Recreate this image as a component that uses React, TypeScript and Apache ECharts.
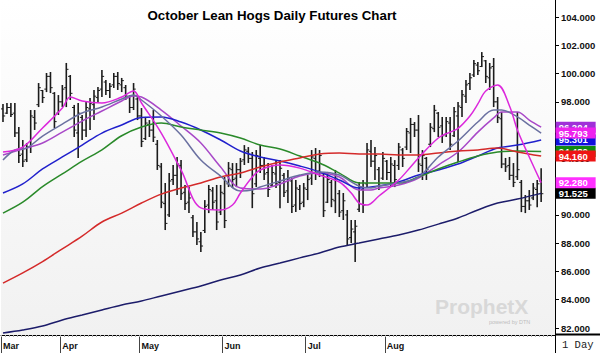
import React, { useEffect, useRef } from 'react';
import * as echarts from 'echarts';

const TITLE = 'October Lean Hogs Daily Futures Chart';
const monthNames = ['Mar', 'Apr', 'May', 'Jun', 'Jul', 'Aug'];
const monthStarts = [0, 15, 35, 56, 77, 97];
const slotCount = 140;

const highs = [97.85,97.92,97.92,97.92,96.22,95.30,95.09,97.42,97.42,99.33,98.84,100.04,100.11,98.69,98.48,99.19,100.75,99.90,97.78,97.92,97.07,97.99,98.27,98.84,99.05,100.25,99.54,99.33,100.04,100.11,99.69,99.19,98.48,99.33,98.34,97.56,96.93,96.71,97.42,95.30,93.67,92.26,92.96,93.53,94.10,93.88,92.12,91.97,89.99,89.50,88.79,91.05,92.12,91.97,92.12,92.12,92.68,93.74,93.67,93.67,94.03,94.94,94.80,94.45,94.59,94.94,94.10,93.67,93.53,93.88,93.88,92.96,93.18,92.61,92.47,92.12,92.26,92.82,94.59,94.73,94.59,92.96,93.04,92.47,93.18,91.76,91.55,90.35,89.64,89.64,92.33,92.47,95.09,95.30,94.80,93.39,94.45,93.88,94.10,93.88,95.09,94.73,96.15,96.86,96.57,97.07,94.59,94.10,96.50,97.78,97.28,96.93,96.93,96.93,97.63,97.99,98.84,99.54,100.04,100.96,100.82,101.52,100.96,100.75,101.10,98.34,97.28,94.03,94.10,93.67,97.28,92.47,91.41,91.76,92.26,92.47,93.31];
const lows = [96.57,97.14,96.93,95.51,93.67,93.39,93.74,94.38,96.01,97.63,97.92,98.69,98.62,96.15,97.07,97.63,97.63,98.13,95.51,94.03,95.30,95.51,96.01,96.71,97.92,98.34,98.48,98.27,98.98,98.84,98.69,98.13,97.21,97.42,96.71,94.80,95.30,95.51,95.16,93.18,90.48,88.93,89.85,92.12,91.41,91.05,90.35,90.13,88.44,87.87,87.38,88.72,90.13,90.35,88.93,89.99,89.07,91.97,91.90,91.97,92.61,93.53,93.67,90.48,91.97,92.96,92.47,91.26,91.97,91.90,90.48,91.26,90.84,90.13,90.20,90.35,90.55,91.05,92.12,92.47,92.68,89.85,90.84,90.55,90.13,89.85,89.64,87.87,88.01,86.67,90.20,90.13,91.97,93.39,92.47,91.76,92.47,92.47,91.97,91.97,93.18,93.39,94.59,94.38,95.51,93.04,92.47,92.47,94.80,95.86,95.51,95.09,95.51,94.59,95.51,93.74,96.93,97.92,98.84,99.76,99.90,100.46,99.33,98.84,97.63,96.50,93.31,93.04,92.47,91.97,92.47,90.20,90.13,90.35,91.05,90.55,90.91];
const opens = [97.5,97.2,97.6,97.2,95.8,94.3,93.9,94.8,96.9,97.8,98.8,98.9,99.8,98.6,97.2,98.0,99.0,99.8,97.6,95.8,96.9,96.0,97.5,97.8,98.3,98.9,99.4,98.8,99.2,99.8,99.2,99.0,98.3,97.6,98.2,97.0,95.4,96.4,96.0,95.0,93.4,90.8,90.0,92.5,92.8,93.5,91.6,90.9,89.8,88.8,88.1,88.9,90.7,91.7,91.0,90.2,91.5,92.2,93.2,92.6,93.2,93.9,94.5,94.0,92.2,94.0,93.5,93.0,92.1,92.9,92.3,92.8,91.7,92.4,90.7,91.8,90.9,91.8,92.6,94.0,93.1,92.8,90.9,92.3,91.0,91.5,90.3,90.0,88.4,88.8,90.4,91.8,92.2,94.5,93.8,93.2,92.6,93.8,93.0,93.5,93.5,94.6,94.8,95.8,96.4,96.0,93.5,94.0,95.0,96.1,97.2,96.3,95.7,96.5,95.6,97.0,97.6,98.4,99.3,99.9,100.6,100.5,100.9,99.7,100.5,98.0,96.8,93.6,93.5,92.8,92.7,92.3,90.6,91.0,91.2,91.8,92.4];
const closes = [97.0,97.6,97.1,95.8,94.2,93.8,94.8,97.0,96.5,99.0,98.3,99.8,99.0,96.6,98.0,98.9,100.3,98.6,96.0,97.2,96.0,97.6,97.9,98.4,98.8,99.8,98.8,99.1,99.8,99.3,99.5,98.4,97.6,98.9,97.0,95.2,96.5,96.0,95.5,93.5,90.9,89.4,92.4,92.8,93.6,91.5,90.8,91.2,88.8,88.3,87.8,90.6,91.8,90.9,89.5,91.6,89.6,93.3,92.5,93.2,93.8,94.6,94.0,91.5,94.2,93.5,92.9,91.8,93.0,92.2,93.3,91.6,92.6,90.6,91.9,90.8,91.9,92.5,94.1,93.0,94.2,90.3,92.5,91.1,92.6,90.2,91.0,88.3,89.0,89.2,92.0,90.7,94.6,93.8,94.2,92.1,94.0,93.0,93.6,92.5,94.8,94.0,95.9,96.4,96.0,93.6,94.2,93.2,96.2,97.4,96.2,95.6,96.6,95.0,97.3,97.7,98.5,99.2,99.7,100.7,100.2,101.2,99.8,100.4,98.0,96.9,93.6,93.4,92.8,92.3,93.2,90.6,91.0,90.7,91.9,92.2,91.5];

const slowIdx = [0,5,10,15,20,25,30,35,40,45,50,55,60,65,70,75,80,85,90,95,100,105,110,115,120,125,130,136];
const navyVal = [81.65,81.86,82.14,82.57,82.92,83.28,83.63,83.91,84.27,84.62,84.97,85.40,85.75,86.25,86.60,86.96,87.31,87.73,88.01,88.30,88.58,88.93,89.35,89.78,90.35,90.84,91.12,91.525];
const redVal = [85.18,85.90,86.70,87.60,88.50,89.50,90.13,90.84,91.47,91.90,92.26,92.68,92.96,93.39,93.74,94.03,94.31,94.38,94.31,94.31,94.24,94.24,94.38,94.52,94.59,94.73,94.45,94.160];
const greenVal = [90.13,90.90,92.00,92.90,93.80,94.60,95.60,96.22,96.50,96.22,96.01,95.80,95.44,94.94,94.66,94.17,93.67,92.96,92.26,92.26,92.26,92.68,93.25,93.74,94.17,94.45,94.52,94.480];
const blueVal = [91.55,92.19,93.25,94.10,94.94,95.79,96.36,96.90,96.93,96.57,96.01,95.30,94.52,94.10,93.81,93.46,93.04,92.47,91.90,92.04,92.33,92.82,93.18,93.60,94.17,94.73,94.94,95.301];

const magentaIdx = [0,5,10,15,17,20,25,30,33,35,40,45,50,55,58,60,63,65,70,75,80,85,88,90,92,95,100,103,105,110,113,115,118,120,122,125,128,130,133,136];
const magentaVal = [94.45,94.80,96.15,97.56,98.34,98.06,97.92,98.34,98.77,97.92,95.79,93.18,90.50,90.35,90.70,91.55,92.68,93.18,93.53,93.31,92.82,92.33,91.55,90.84,90.70,91.34,92.47,93.39,94.03,95.44,95.86,96.12,97.00,97.85,98.77,99.19,97.71,96.01,94.10,92.280];

const slateIdx = [0,3,6,10,15,20,25,30,33,35,40,45,50,55,60,63,65,70,75,80,85,90,93,95,100,105,110,115,120,124,126,130,133,136];
const slateVal = [93.88,94.59,94.73,95.58,96.43,97.21,97.63,98.20,98.48,98.13,97.00,95.65,93.88,92.75,91.69,91.76,91.97,92.40,92.82,93.04,92.82,92.04,91.90,92.04,92.26,92.68,94.10,95.23,96.57,97.42,97.42,96.93,96.36,95.793];

const violetIdx = [0,5,10,15,20,25,30,33,35,40,45,50,55,60,65,70,75,80,85,90,93,95,100,105,110,115,120,124,126,130,133,136];
const violetVal = [94.24,94.66,95.09,95.86,96.64,97.35,98.06,98.41,98.34,97.42,96.29,95.09,93.39,91.90,91.83,92.19,92.75,92.96,92.68,91.76,91.76,91.90,92.12,92.61,93.53,94.45,95.86,96.86,97.28,97.28,96.71,96.204];

const pairs = (idx: number[], vals: number[]) => idx.map((x, k) => [x, vals[k]]);

function maSeries(name: string, idx: number[], vals: number[], color: string, badge: string, z: number) {
  return {
    name,
    type: 'line',
    data: pairs(idx, vals),
    smooth: 0.35,
    symbol: 'none',
    z,
    lineStyle: { color, width: 1.5 },
    endLabel: {
      show: true,
      formatter: (p: any) => Number(p.value[1]).toFixed(3),
      distance: 14.5,
      color: '#fff',
      backgroundColor: badge,
      fontSize: 9.5,
      fontWeight: 'bold',
      fontFamily: 'Arial, Liberation Sans, sans-serif',
      lineHeight: 10,
      width: 34,
      align: 'left',
      padding: [1, 3, 0, 3],
    },
  };
}

export default function App() {
  const ref = useRef<HTMLDivElement>(null);
  useEffect(() => {
    if (!ref.current) return;
    const chart = echarts.init(ref.current, undefined, { renderer: 'svg' });
    const cats = Array.from({ length: slotCount }, (_, i) => String(i));
    const ohlc = highs.map((h, i) => [i, opens[i], closes[i], lows[i], h]);
    const labelFor = (idx: number) => {
      const k = monthStarts.indexOf(idx);
      return k >= 0 ? monthNames[k] : '';
    };
    chart.setOption({
      animation: false,
      backgroundColor: '#ffffff',
      grid: {
        left: -2.8, right: 45, top: 0, bottom: 18, containLabel: false,
        show: true, borderWidth: 0,
        backgroundColor: new echarts.graphic.LinearGradient(0, 0, 0, 1, [
          { offset: 0, color: '#ffffff' },
          { offset: 1, color: '#f1f1f1' },
        ]),
      },
      xAxis: [
        {
          type: 'category', data: cats, boundaryGap: true,
          axisLine: { show: true, lineStyle: { color: '#000', width: 1 } },
          axisTick: { show: true, interval: (i: number) => monthStarts.includes(i), length: 18, lineStyle: { color: '#444' } },
          axisLabel: {
            interval: (i: number) => monthStarts.includes(i),
            formatter: (_v: string, i: number) => labelFor(i),
            align: 'left', margin: 6, fontSize: 9, fontWeight: 'bold', color: '#111',
            fontFamily: 'Arial, Liberation Sans, sans-serif',
          },
          splitLine: { show: false },
        },
        {
          type: 'category', data: cats, boundaryGap: true, position: 'bottom',
          axisLine: { show: false },
          axisTick: { show: true, interval: 0, length: 2, lineStyle: { color: '#aaa' } },
          axisLabel: { show: false },
          splitLine: { show: false },
        },
      ],
      yAxis: {
        type: 'value', position: 'right', min: 81.505, max: 105.204, splitNumber: 12,
        axisLine: { show: true, lineStyle: { color: '#000' } },
        axisTick: { show: true, length: 4, lineStyle: { color: '#000' } },
        axisLabel: {
          formatter: (v: number) => v.toFixed(3), fontSize: 9.5, fontWeight: 'bold', color: '#111', margin: 6,
          showMinLabel: false, showMaxLabel: false, fontFamily: 'Arial, Liberation Sans, sans-serif',
        },
        splitLine: { show: false },
      },
      series: [
        {
          type: 'custom', name: 'OHLC', data: ohlc, z: 2, clip: true,
          encode: { x: 0, y: [1, 2, 3, 4] },
          renderItem: (_p: any, api: any) => {
            const i = api.value(0);
            const o = api.coord([i, api.value(1)]);
            const c = api.coord([i, api.value(2)]);
            const l = api.coord([i, api.value(3)]);
            const h = api.coord([i, api.value(4)]);
            const x = h[0];
            const st = { stroke: '#1c1c1c', lineWidth: 1.6 };
            return {
              type: 'group',
              children: [
                { type: 'line', shape: { x1: x, y1: h[1], x2: x, y2: l[1] }, style: st },
                { type: 'line', shape: { x1: x - 2.2, y1: o[1], x2: x, y2: o[1] }, style: { stroke: '#1c1c1c', lineWidth: 1 } },
                { type: 'line', shape: { x1: x, y1: c[1], x2: x + 2.2, y2: c[1] }, style: { stroke: '#1c1c1c', lineWidth: 1 } },
              ],
            };
          },
        },
        maSeries('MA navy', slowIdx, navyVal, '#1c1c6a', '#000000', 4),
        maSeries('MA violet', violetIdx, violetVal, '#a848c8', '#a030d8', 5),
        maSeries('MA blue', slowIdx, blueVal, '#2020cc', '#1010dd', 6),
        maSeries('MA green', slowIdx, greenVal, '#2a8a2a', '#108a10', 7),
        maSeries('MA red', slowIdx, redVal, '#d42a2a', '#ee1414', 8),
        maSeries('MA slate', slateIdx, slateVal, '#6a70a0', '#ee22ee', 9),
        maSeries('MA magenta', magentaIdx, magentaVal, '#dc28dc', '#ff30ff', 10),
      ],
      graphic: [
        {
          type: 'text', x: 272, y: 15, z: 20,
          style: { text: TITLE, fontSize: 13.3, fontWeight: 'bold', fill: '#000', align: 'center', verticalAlign: 'middle', fontFamily: 'Arial, Liberation Sans, sans-serif' },
        },
        {
          type: 'text', x: 435, y: 296, z: 1, silent: true,
          style: { text: 'ProphetX', fontSize: 21, fontWeight: 'bold', fill: '#d8d8d8', fontFamily: 'Arial, Liberation Sans, sans-serif' },
        },
        {
          type: 'text', x: 489, y: 319, z: 1, silent: true,
          style: { text: 'powered by DTN', fontSize: 5.5, fill: '#bdbdbd', fontFamily: 'Arial, Liberation Sans, sans-serif' },
        },
        {
          type: 'text', x: 562, y: 345, z: 20,
          style: { text: '1 Day', fontSize: 10.5, fill: '#222', fontFamily: 'Liberation Mono, DejaVu Sans Mono, monospace', verticalAlign: 'middle' },
        },
        {
          type: 'line', z: 20,
          shape: { x1: 555, y1: 334.5, x2: 600, y2: 334.5 },
          style: { stroke: '#000', lineWidth: 2 },
        },
        {
          type: 'line', z: 20,
          shape: { x1: 555.5, y1: 334, x2: 555.5, y2: 353 },
          style: { stroke: '#000', lineWidth: 1 },
        },
      ],
    });
    return () => chart.dispose();
  }, []);
  return <div ref={ref} style={{ position: 'absolute', left: 0, top: 0, width: 600, height: 353 }} />;
}
